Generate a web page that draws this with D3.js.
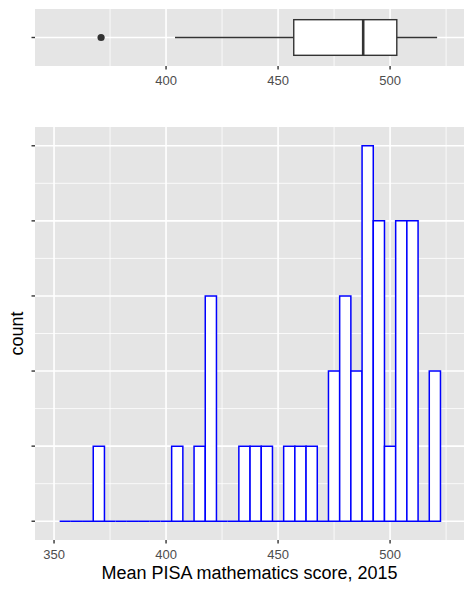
<!DOCTYPE html>
<html><head><meta charset="utf-8">
<script src="https://cdn.jsdelivr.net/npm/d3@7"></script>
<style>body{margin:0;background:#fff}svg{display:block}text{font-family:"Liberation Sans",Arial,sans-serif}</style>
</head><body>
<svg id="c" width="474" height="592"></svg>
<script>
// Histogram bins (binwidth 5)
const binLower = [352.5,357.5,362.5,367.5,372.5,377.5,382.5,387.5,392.5,397.5,402.5,407.5,412.5,417.5,422.5,427.5,432.5,437.5,442.5,447.5,452.5,457.5,462.5,467.5,472.5,477.5,482.5,487.5,492.5,497.5,502.5,507.5,512.5,517.5];
const binUpper = [357.5,362.5,367.5,372.5,377.5,382.5,387.5,392.5,397.5,402.5,407.5,412.5,417.5,422.5,427.5,432.5,437.5,442.5,447.5,452.5,457.5,462.5,467.5,472.5,477.5,482.5,487.5,492.5,497.5,502.5,507.5,512.5,517.5,522.5];
const counts   = [0,0,0,1,0,0,0,0,0,0,1,0,1,3,0,0,1,1,1,0,1,1,1,0,2,3,2,5,4,1,4,4,0,2];
// Boxplot summary
const boxStat = ["lower","q1","median","q3","upper"];
const boxVal  = [404, 457, 488, 503, 521];
const outliers = [371];
// Axis ticks
const histXTicks = [350,400,450,500];
const boxXTicks  = [400,450,500];
const minorX = [375,425,475,525];
const histYTicks = [0,1,2,3,4,5];
const histYMinor = [0.5,1.5,2.5,3.5,4.5];
const xTitle = "Mean PISA mathematics score, 2015";
const yTitle = "count";

const svg = d3.select("#c");
const L = 35, R = 464;
const x = d3.scaleLinear().domain([341.5, 533]).range([L, R]);
const bg = "#e5e5e5";

// ---------- top boxplot panel ----------
const tTop = 9, tBot = 66;
const yb = d3.scaleLinear().domain([0.4, 1.6]).range([tBot, tTop]);
const gt = svg.append("g");
gt.append("rect").attr("x", L).attr("y", tTop).attr("width", R - L).attr("height", tBot - tTop).attr("fill", bg);
gt.selectAll(".mn").data(minorX).join("line").attr("x1", d => x(d)).attr("x2", d => x(d))
  .attr("y1", tTop).attr("y2", tBot).attr("stroke", "#fff").attr("stroke-width", 0.8);
gt.selectAll(".mj").data(boxXTicks).join("line").attr("x1", d => x(d)).attr("x2", d => x(d))
  .attr("y1", tTop).attr("y2", tBot).attr("stroke", "#fff").attr("stroke-width", 1.6);
gt.append("line").attr("x1", L).attr("x2", R).attr("y1", yb(1)).attr("y2", yb(1)).attr("stroke", "#fff").attr("stroke-width", 1.6);
const bv = Object.fromEntries(boxStat.map((k, i) => [k, boxVal[i]]));
const bw = 0.375;
gt.append("line").attr("x1", x(bv.lower)).attr("x2", x(bv.q1)).attr("y1", yb(1)).attr("y2", yb(1)).attr("stroke", "#333").attr("stroke-width", 1.4);
gt.append("line").attr("x1", x(bv.q3)).attr("x2", x(bv.upper)).attr("y1", yb(1)).attr("y2", yb(1)).attr("stroke", "#333").attr("stroke-width", 1.4);
gt.append("rect").attr("x", x(bv.q1)).attr("y", yb(1 + bw)).attr("width", x(bv.q3) - x(bv.q1))
  .attr("height", yb(1 - bw) - yb(1 + bw)).attr("fill", "#fff").attr("stroke", "#333").attr("stroke-width", 1.4);
gt.append("line").attr("x1", x(bv.median)).attr("x2", x(bv.median)).attr("y1", yb(1 + bw)).attr("y2", yb(1 - bw)).attr("stroke", "#333").attr("stroke-width", 2.6);
gt.selectAll(".out").data(outliers).join("circle").attr("cx", d => x(d)).attr("cy", yb(1)).attr("r", 3.6).attr("fill", "#333");
// axes
gt.selectAll(".xt").data(boxXTicks).join("line").attr("x1", d => x(d)).attr("x2", d => x(d))
  .attr("y1", tBot).attr("y2", tBot + 3.5).attr("stroke", "#333").attr("stroke-width", 1.4);
gt.selectAll(".xl").data(boxXTicks).join("text").attr("x", d => x(d)).attr("y", 85).attr("text-anchor", "middle")
  .attr("font-size", 13).attr("fill", "#4d4d4d").text(d => d);
gt.append("line").attr("x1", L - 3.5).attr("x2", L).attr("y1", yb(1)).attr("y2", yb(1)).attr("stroke", "#333").attr("stroke-width", 1.4);

// ---------- histogram panel ----------
const hTop = 127, hBot = 540;
const y = d3.scaleLinear().domain([-0.25, 5.25]).range([hBot, hTop]);
const gh = svg.append("g");
gh.append("rect").attr("x", L).attr("y", hTop).attr("width", R - L).attr("height", hBot - hTop).attr("fill", bg);
gh.selectAll(".mnx").data(minorX).join("line").attr("x1", d => x(d)).attr("x2", d => x(d))
  .attr("y1", hTop).attr("y2", hBot).attr("stroke", "#fff").attr("stroke-width", 0.8);
gh.selectAll(".mny").data(histYMinor).join("line").attr("x1", L).attr("x2", R)
  .attr("y1", d => y(d)).attr("y2", d => y(d)).attr("stroke", "#fff").attr("stroke-width", 0.8);
gh.selectAll(".mjx").data(histXTicks).join("line").attr("x1", d => x(d)).attr("x2", d => x(d))
  .attr("y1", hTop).attr("y2", hBot).attr("stroke", "#fff").attr("stroke-width", 1.6);
gh.selectAll(".mjy").data(histYTicks).join("line").attr("x1", L).attr("x2", R)
  .attr("y1", d => y(d)).attr("y2", d => y(d)).attr("stroke", "#fff").attr("stroke-width", 1.6);
const bins = binLower.map((lo, i) => ({lo, hi: binUpper[i], n: counts[i]}));
gh.selectAll(".bar").data(bins).join("path")
  .attr("d", d => `M${x(d.lo)},${y(0)}H${x(d.hi)}V${y(d.n)}H${x(d.lo)}Z`)
  .attr("fill", "#fff").attr("stroke", "#0000ff").attr("stroke-width", 1.5);
// axes
gh.selectAll(".xt").data(histXTicks).join("line").attr("x1", d => x(d)).attr("x2", d => x(d))
  .attr("y1", hBot).attr("y2", hBot + 3.5).attr("stroke", "#333").attr("stroke-width", 1.4);
gh.selectAll(".xl").data(histXTicks).join("text").attr("x", d => x(d)).attr("y", 559).attr("text-anchor", "middle")
  .attr("font-size", 13).attr("fill", "#4d4d4d").text(d => d);
gh.selectAll(".yt").data(histYTicks).join("line").attr("x1", L - 3.5).attr("x2", L)
  .attr("y1", d => y(d)).attr("y2", d => y(d)).attr("stroke", "#333").attr("stroke-width", 1.4);
svg.append("text").attr("x", (L + R) / 2).attr("y", 579).attr("text-anchor", "middle")
  .attr("font-size", 18).attr("fill", "#000").text(xTitle);
svg.append("text").attr("transform", `translate(23,${(hTop + hBot) / 2}) rotate(-90)`).attr("text-anchor", "middle")
  .attr("font-size", 18).attr("fill", "#000").text(yTitle);
</script>
</body></html>
